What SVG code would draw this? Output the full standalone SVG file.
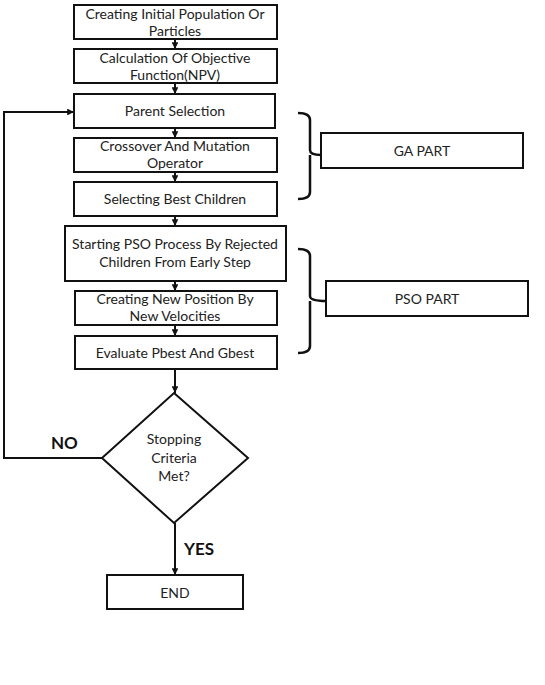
<svg xmlns="http://www.w3.org/2000/svg" width="545" height="685" viewBox="0 0 545 685">
<style>
.box{fill:#fff;stroke:#111;stroke-width:2}
.t{font-family:Lato,"Liberation Sans",sans-serif;font-size:14px;fill:#222;text-anchor:middle}
.lbl{font-family:Lato,"Liberation Sans",sans-serif;font-size:17px;font-weight:bold;fill:#111}
.c{fill:none;stroke:#111;stroke-width:2}
.br{fill:none;stroke:#111;stroke-width:2.5}
</style>
<defs>
<marker id="ah" viewBox="0 0 10 10" refX="10" refY="5" markerWidth="3.4" markerHeight="3.4" orient="auto" markerUnits="strokeWidth">
<path d="M0,0L10,5L0,10z" fill="#111"/>
</marker>
</defs>
<rect width="545" height="685" fill="#fff"/>
<g id="connectors">
<line class="c" x1="175" y1="39" x2="175" y2="49" marker-end="url(#ah)"/>
<line class="c" x1="175" y1="83" x2="175" y2="94" marker-end="url(#ah)"/>
<line class="c" x1="175" y1="128" x2="175" y2="138" marker-end="url(#ah)"/>
<line class="c" x1="175" y1="172" x2="175" y2="182" marker-end="url(#ah)"/>
<line class="c" x1="175" y1="216" x2="175" y2="226" marker-end="url(#ah)"/>
<line class="c" x1="175" y1="281" x2="175" y2="291" marker-end="url(#ah)"/>
<line class="c" x1="175" y1="325" x2="175" y2="336" marker-end="url(#ah)"/>
<line class="c" x1="175" y1="369" x2="175" y2="393" marker-end="url(#ah)"/>
<line class="c" x1="175" y1="523" x2="175" y2="575" stroke-width="2.5" marker-end="url(#ah)"/>
<polyline class="c" points="102,458 4,458 4,112 74,112" stroke-width="2.5" marker-end="url(#ah)"/>
<path class="br" d="M298,113 Q310,113 310,120 L310,150 Q310,155 321,155 M310,155 Q310,160 310,165 L310,192 Q310,199 298,199"/>
<path class="br" d="M298,249 Q310,249 310,256 L310,296 Q310,301 326,301 M310,301 L310,346 Q310,353 298,353"/>
</g>
<g id="n1"><rect class="box" x="74" y="5" width="203" height="34"/><text class="t" x="175" y="19">Creating Initial Population Or</text><text class="t" x="175" y="36">Particles</text></g>
<g id="n2"><rect class="box" x="74" y="49" width="203" height="34"/><text class="t" x="175" y="63">Calculation Of Objective</text><text class="t" x="175" y="80">Function(NPV)</text></g>
<g id="n3"><rect class="box" x="74" y="94" width="201" height="34"/><text class="t" x="175" y="116">Parent Selection</text></g>
<g id="n4"><rect class="box" x="74" y="138" width="203" height="34"/><text class="t" x="175" y="151">Crossover And Mutation</text><text class="t" x="175" y="168">Operator</text></g>
<g id="n5"><rect class="box" x="74" y="182" width="203" height="34"/><text class="t" x="175" y="204">Selecting Best Children</text></g>
<g id="n6"><rect class="box" x="65" y="226" width="221" height="55"/><text class="t" x="175" y="249">Starting PSO Process By Rejected</text><text class="t" x="175" y="267">Children From Early Step</text></g>
<g id="n7"><rect class="box" x="75" y="291" width="202" height="34"/><text class="t" x="175" y="304">Creating New Position By</text><text class="t" x="175" y="321">New Velocities</text></g>
<g id="n8"><rect class="box" x="75" y="336" width="202" height="33"/><text class="t" x="175" y="358">Evaluate Pbest And Gbest</text></g>
<g id="decision"><polygon class="box" points="174,393 248,458 174,523 102,458"/><text class="t" x="174" y="444">Stopping</text><text class="t" x="174" y="463">Criteria</text><text class="t" x="174" y="481">Met?</text></g>
<g id="end"><rect class="box" x="107" y="575" width="136" height="34"/><text class="t" x="175" y="598">END</text></g>
<g id="ga"><rect class="box" x="321" y="133" width="202" height="35"/><text class="t" x="422" y="156">GA PART</text></g>
<g id="pso"><rect class="box" x="326" y="281" width="202" height="35"/><text class="t" x="427" y="304">PSO PART</text></g>
<text class="lbl" x="51" y="449">NO</text>
<text class="lbl" x="184" y="555">YES</text>
</svg>
